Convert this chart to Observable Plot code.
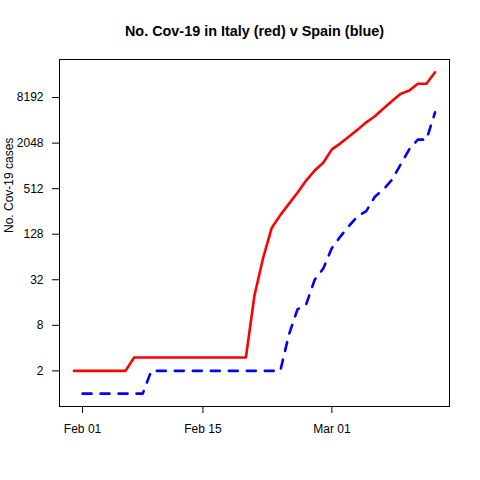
<!DOCTYPE html>
<html><head><meta charset="utf-8">
<script src="https://cdn.jsdelivr.net/npm/d3@7"></script>
<script src="https://cdn.jsdelivr.net/npm/@observablehq/plot@0.6"></script>
<style>body{margin:0;background:#fff}</style>
</head><body><div id="chart"></div>
<script>
// Data (cumulative confirmed cases, daily)
const italyStart = "2020-01-31";
const italyCases = [2,2,2,2,2,2,2, 3,3,3,3,3,3,3,3,3,3,3,3,3,3,
  20,62,155,229,322,453,655,888,1128,
  1694,2036,2502,3089,3858,4636,5883,7375,9172,10149,12462,12462,17660];
const spainStart = "2020-02-01";
const spainCases = [1,1,1,1,1,1,1,1, 2,2,2,2,2,2,2,2,2,2,2,2,2,2,2,2,
  6,13,15,32,45,
  84,120,165,222,259,400,500,673,1073,1695,2277,2277,5232];
const xTickDates = ["2020-02-01","2020-02-15","2020-03-01"];
const yTicks = [2,8,32,128,512,2048,8192];
const titleText = "No. Cov-19 in Italy (red) v Spain (blue)";
const yLabel = "No. Cov-19 cases";

const toRows = (start, vals) => vals.map((v, i) => ({date: d3.utcDay.offset(new Date(start + "T00:00Z"), i), cases: v}));
const italy = toRows(italyStart, italyCases);
const spain = toRows(spainStart, spainCases);

const chart = Plot.plot({
  width: 480, height: 480,
  marginLeft: 59, marginRight: 31, marginTop: 59, marginBottom: 74,
  style: {fontFamily: "'Liberation Sans', Arial, sans-serif", fontSize: "12px", color: "black", background: "white"},
  x: {type: "utc", domain: [new Date("2020-01-29T07:41Z"), new Date("2020-03-14T16:19Z")]},
  y: {type: "log", base: 2, domain: [0.676, 26100]},
  marks: [
    Plot.frame({stroke: "black", strokeWidth: 1}),
    Plot.line(spain, {x: "date", y: "cases", stroke: "blue", strokeWidth: 2.6, strokeDasharray: "9,9", strokeLinecap: "round"}),
    Plot.line(italy, {x: "date", y: "cases", stroke: "red", strokeWidth: 2.6, strokeLinecap: "round"}),
    Plot.axisX({ticks: xTickDates.map(d => new Date(d + "T00:00Z")), tickFormat: d3.utcFormat("%b %d"), tickSize: 7, tickPadding: 11, fontSize: 12, label: null}),
    Plot.axisY({ticks: yTicks, tickFormat: d => String(d), tickSize: 7, tickPadding: 9, fontSize: 12, label: null}),
    Plot.text([titleText], {frameAnchor: "top", dy: -24, text: d => d, fontWeight: "bold", fontSize: 14.4, lineAnchor: "bottom"}),
    Plot.text([yLabel], {frameAnchor: "left", rotate: -90, dx: -50, text: d => d, fontSize: 12})
  ]
});
document.getElementById("chart").appendChild(chart);
</script>
</body></html>
